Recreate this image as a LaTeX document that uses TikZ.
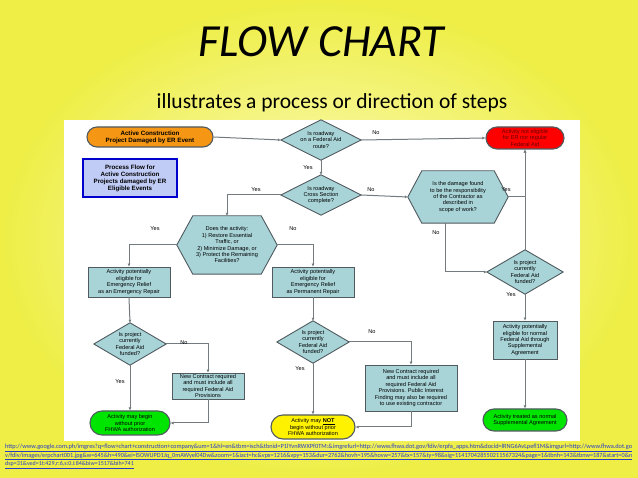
\documentclass[tikz,border=0pt]{standalone}
\usepackage{fontspec}
\setmainfont{Liberation Sans}
\newfontfamily\carlitofont{Carlito}
\usetikzlibrary{shapes.geometric,shapes.misc,arrows.meta,calc}
\definecolor{bx}{RGB}{168,212,216}
\definecolor{bd}{RGB}{80,90,95}
\definecolor{org}{RGB}{245,150,20}
\definecolor{lnk}{RGB}{40,60,200}
\tikzset{
 txt/.style={font=\fontsize{5.6}{6.4}\selectfont, align=center, inner sep=1pt},
 box/.style={txt, draw=bd, fill=bx, line width=0.9pt},
 term/.style={txt, rounded rectangle, draw=bd, line width=1.1pt},
 hexbox/.style={txt, minimum width=#1},
 arr/.style={-{Latex[length=3pt,width=3pt]}, line width=1pt, draw=bd!80},
 lab/.style={font=\fontsize{5.6}{6}\selectfont, inner sep=1pt},
}
\newcommand{\hexdraw}[2]{\draw[draw=bd, fill=bx, line width=0.9pt] (#1.west) -- ($(#1.north west)+(#2,0)$) -- ($(#1.north east)+(-#2,0)$) -- (#1.east) -- ($(#1.south east)+(-#2,0)$) -- ($(#1.south west)+(#2,0)$) -- cycle;}
\newcommand{\diadraw}[1]{\draw[draw=bd, fill=bx, line width=0.9pt] (#1.west) -- (#1.north) -- (#1.east) -- (#1.south) -- cycle;}
\begin{document}
\begin{tikzpicture}[x=1pt,y=-1pt]
\useasboundingbox (0,0) rectangle (638,478);
\shade[inner color={rgb,255:red,252;green,252;blue,205}, outer color={rgb,255:red,238;green,238;blue,70}] (0,0) rectangle (638,478);
\fill[white] (64,120) rectangle (580,441);
\node[font=\carlitofont\itshape\fontsize{46}{46}\selectfont] (title) at (321,42) {FLOW CHART};
\node[font=\carlitofont\fontsize{21.5}{21.5}\selectfont] (sub) at (332,103) {illustrates a process or direction of steps};
% nodes
\node[term, fill=org, minimum width=128pt, minimum height=20pt, font=\bfseries\fontsize{6.2}{7}\selectfont] (start) at (150,137) {Active Construction\\Project Damaged by ER Event};
\node[txt, draw=blue!80!black, line width=2pt, fill=bx!60!blue!40, minimum width=94pt, minimum height=38pt, font=\bfseries\fontsize{6.2}{7}\selectfont] (legend) at (130,178) {Process Flow for\\Active Construction\\Projects damaged by ER\\Eligible Events};
\node[term, fill=red, text=red!40!black, minimum width=80pt, minimum height=22pt] (red) at (525,138) {Activity not eligible\\for ER nor regular\\Federal Aid};
\node[txt, minimum width=80pt, minimum height=40pt] (d1) at (321,140) {};
\diadraw{d1}
\node[txt] at (d1) {Is roadway\\on a Federal Aid\\route?};
\node[txt, minimum width=80pt, minimum height=40pt] (d2) at (321,195) {};
\diadraw{d2}
\node[txt] at (d2) {Is roadway\\Cross Section\\complete?};
\node[hexbox=100pt, minimum height=52pt] (h1) at (458,197) {};
\hexdraw{h1}{14}
\node[txt] at (h1) {Is the damage found\\to be the responsibility\\of the Contractor as\\described in\\scope of work?};
\node[hexbox=100pt, minimum height=58pt] (h2) at (227,245) {};
\hexdraw{h2}{16}
\node[txt] at (h2) {Does the activity:\\1) Restore Essential\\Traffic, or\\2) Minimize Damage, or\\3) Protect the Remaining\\Facilities?};
\node[txt, minimum width=76pt, minimum height=44pt] (d4) at (525,272) {};
\diadraw{d4}
\node[txt] at (d4) {Is project\\currently\\Federal Aid\\funded?};
\node[box, minimum width=82pt, minimum height=30pt] (ba) at (129,282) {Activity potentially\\eligible for\\Emergency Relief\\as an Emergency Repair};
\node[box, minimum width=82pt, minimum height=30pt] (bb) at (313,282) {Activity potentially\\eligible for\\Emergency Relief\\as Permanent Repair};
\node[txt, minimum width=72pt, minimum height=42pt] (d5) at (130,344) {};
\diadraw{d5}
\node[txt] at (d5) {Is project\\currently\\Federal Aid\\funded?};
\node[txt, minimum width=72pt, minimum height=42pt] (d6) at (313,342) {};
\diadraw{d6}
\node[txt] at (d6) {Is project\\currently\\Federal Aid\\funded?};
\node[box, minimum width=72pt, minimum height=26pt] (bc) at (208,386) {New Contract required\\and must include all\\required Federal Aid\\Provisions};
\node[box, minimum width=92pt, minimum height=46pt] (bd) at (411,388) {New Contract required\\and must include all\\required Federal Aid\\Provisions. Public Interest\\Finding may also be required\\to use existing contractor};
\node[box, minimum width=64pt, minimum height=38pt] (be) at (525,340) {Activity potentially\\eligible for normal\\Federal Aid through\\Supplemental\\Agreement};
\node[term, fill=green!90!black, minimum width=82pt, minimum height=24pt] (g1) at (130,423) {Activity may begin\\without prior\\FHWA authorization};
\node[term, fill=yellow, minimum width=86pt, minimum height=24pt] (y1) at (313,427) {Activity may \textbf{\underline{NOT}}\\begin without prior\\FHWA authorization};
\node[term, fill=green!90!black, minimum width=86pt, minimum height=22pt] (g2) at (525,420) {Activity treated as normal\\Supplemental Agreement};
% connectors
\draw[arr] (start.east) -- (d1.west);
\draw[arr] (d1.east) -- (red.west);
\draw[arr] (d1.south) -- (d2.north);
\draw[arr] (d2.east) -- (h1.west);
\draw[arr] (d2.west) -| (h2.north);
\draw[arr] (h1.east) -| (red.south);
\draw[arr] (d4.north) -- (red.south);
\draw[arr] (h1.south -| 445,0) |- (d4.west);
\draw[arr] (h2.west) -| (ba.north);
\draw[arr] (h2.east) -| (bb.north);
\draw[arr] (ba.south) -- (d5.north);
\draw[arr] (bb.south) -- (d6.north);
\draw[arr] (d5.east) -| (bc.north);
\draw[arr] (d5.south) -- (g1.north);
\draw[arr] (bc.south) |- (g1.east);
\draw[arr] (d6.east) -| (bd.north);
\draw[arr] (d6.south) -- (y1.north);
\draw[arr] (bd.south) |- (y1.east);
\draw[arr] (d4.south) -- (be.north);
\draw[arr] (be.south) -- (g2.north);
% labels
\node[lab] at (376,133) {No};
\node[lab] at (308,168) {Yes};
\node[lab] at (256,190) {Yes};
\node[lab] at (371,190) {No};
\node[lab] at (506,190) {Yes};
\node[lab] at (436,233) {No};
\node[lab] at (511,295) {Yes};
\node[lab] at (155,229) {Yes};
\node[lab] at (293,229) {No};
\node[lab] at (184,343) {No};
\node[lab] at (120,382) {Yes};
\node[lab] at (300,369) {Yes};
\node[lab] at (372,332) {No};
% URL
\node[font=\carlitofont\fontsize{6}{8.5}\selectfont, text=lnk, align=left, anchor=north west, inner sep=0pt] (url) at (5,444) {%
\resizebox{627pt}{!}{\underline{http://www.google.com.ph/imgres?q=flow+chart+construction+company\&um=1\&hl=en\&tbm=isch\&tbnid=P1lYvnRWXPf0TM:\&imgrefurl=http://www.fhwa.dot.gov/fdiv/erpfa\_apps.htm\&docid=lRNG6AvLpefl1M\&imgurl=http://www.fhwa.dot.go}}\\
\resizebox{627pt}{!}{\underline{v/fdiv/images/erpchart001.jpg\&w=645\&h=490\&ei=lSOWUPD1Jq\_0mAWyel04Dw\&zoom=1\&iact=hc\&vpx=1216\&vpy=153\&dur=2762\&hovh=195\&hovw=257\&tx=157\&ty=98\&sig=114170428550211567324\&page=1\&tbnh=143\&tbnw=187\&start=0\&n}}\\
\underline{dsp=31\&ved=1t:429,r:6,s:0,i:84\&biw=1517\&bih=741}};
\end{tikzpicture}
\end{document}
